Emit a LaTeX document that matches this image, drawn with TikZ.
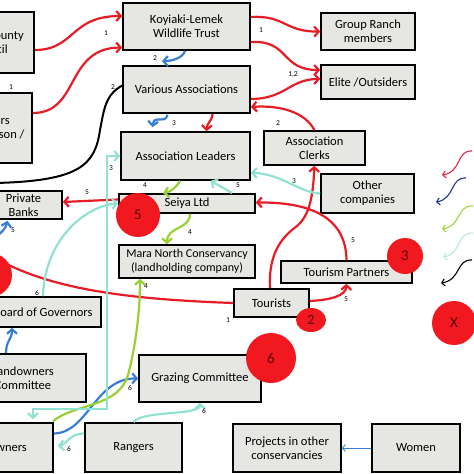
\documentclass[tikz,border=0pt]{standalone}
\usepackage{fontspec}
\setmainfont{Carlito}
\usetikzlibrary{arrows.meta,calc,shapes.geometric}
\definecolor{rl}{RGB}{232,28,38}
\definecolor{bl}{RGB}{58,125,214}
\definecolor{gr}{RGB}{154,208,52}
\definecolor{cy}{RGB}{145,226,210}
\definecolor{cr}{RGB}{242,24,32}
\definecolor{cdark}{RGB}{85,6,6}
\definecolor{boxgray}{RGB}{230,230,227}
\definecolor{lgred}{RGB}{226,40,70}
\definecolor{lgnavy}{RGB}{30,55,140}
\definecolor{lggreen}{RGB}{160,214,60}
\definecolor{lgcyan}{RGB}{185,232,224}
\begin{document}
\begin{tikzpicture}[x=1pt,y=-1pt,
  box/.style={draw=black,line width=1.6pt,fill=boxgray,align=center,inner sep=1pt,font=\fontsize{12.5}{14}\selectfont},
  circ/.style={circle,fill=cr,inner sep=0pt,font=\fontsize{15}{15}\selectfont,text=cdark},
  tip/.style={-{Straight Barb[length=4.5pt,width=10pt]}},
  redc/.style={draw=rl,line width=2.2pt,tip},
  bluec/.style={draw=bl,line width=2.2pt,tip},
  greenc/.style={draw=gr,line width=2.2pt,tip},
  cyanc/.style={draw=cy,line width=2.2pt,tip},
  blackc/.style={draw=black,line width=2pt},
  legc/.style={line width=1.1pt,-{Straight Barb[length=3pt,width=7pt]}},
  lbl/.style={font=\fontsize{7.5}{8}\selectfont,inner sep=0pt}]
\useasboundingbox (0,0) rectangle (474,474);
\fill[white] (0,0) rectangle (474,474);
\clip (0,0) rectangle (474,474);

% boxes
\node[box,minimum width=90pt,minimum height=61pt] (county) at (-11,42.5) {Narok County\\Council};
\node[box,minimum width=84pt,minimum height=70pt] (elders) at (-10,128) {Leaders\\Chairperson /};
\node[box,minimum width=127pt,minimum height=47pt] (koy) at (186.5,26.5) {Koyiaki-Lemek\\Wildlife Trust};
\node[box,minimum width=94pt,minimum height=37pt] (grm) at (368,31.5) {Group Ranch\\members};
\node[box,minimum width=94pt,minimum height=34pt] (elite) at (368,82) {Elite /Outsiders};
\node[box,minimum width=127pt,minimum height=47pt] (various) at (186.5,89.5) {Various Associations};
\node[box,minimum width=129pt,minimum height=48pt] (aleaders) at (185.5,156) {Association Leaders};
\node[box,minimum width=101pt,minimum height=34pt] (clerks) at (314.5,148) {Association\\Clerks};
\node[box,minimum width=93pt,minimum height=39pt] (other) at (367.5,193.5) {Other\\companies};
\node[box,minimum width=77pt,minimum height=28pt] (banks) at (23.5,205) {Private\\Banks};
\node[box,minimum width=136pt,minimum height=19pt] (seiya) at (187,203.5) {Seiya Ltd};
\node[box,minimum width=136pt,minimum height=33pt,font=\fontsize{12}{14}\selectfont] (mara) at (187,261.5) {Mara North Conservancy\\(landholding company)};
\node[box,minimum width=131pt,minimum height=22pt] (tpart) at (346.5,272) {Tourism Partners};
\node[box,minimum width=75pt,minimum height=28pt] (tourists) at (271.5,303) {Tourists};
\node[box,minimum width=116pt,minimum height=30pt] (bog) at (43,312) {Board of Governors};
\node[box,minimum width=126pt,minimum height=48pt] (lcomm) at (23,378) {Landowners\\Committee};
\node[box,minimum width=114pt,minimum height=49pt] (lowners) at (-4,447.5) {Landowners};
\node[box,minimum width=97pt,minimum height=49pt] (rangers) at (133.5,447.5) {Rangers};
\node[box,minimum width=122pt,minimum height=47pt] (grazing) at (200,378.5) {Grazing Committee};
\node[box,minimum width=108pt,minimum height=48pt] (projects) at (287,448) {Projects in other\\conservancies};
\node[box,minimum width=88pt,minimum height=48pt] (women) at (416,448) {Women};

% red connectors
\draw[redc] ($(county.east)+(0,7.5)$) .. controls (75,50) and (70,16) .. ($(koy.west)+(0,-10.5)$);
\draw[redc] ($(elders.east)+(0,-15)$) .. controls (80,113) and (65,48) .. ($(koy.west)+(0,21)$);
\draw[redc] ($(koy.east)+(0,-9.5)$) .. controls (285,15) and (285,32) .. (grm.west);
\draw[redc] ($(koy.east)+(0,15.5)$) .. controls (290,40) and (280,70) .. ($(elite.west)+(0,-12)$);
\draw[redc] ($(various.east)+(0,9.5)$) .. controls (285,99) and (290,79) .. ($(elite.west)+(0,-3)$);
\draw[redc] (clerks.north) .. controls (305,112) and (280,105) .. ($(various.east)+(0,17.5)$);
\draw[redc] ($(various.south)+(26,0)$) .. controls (212,122) and (207,122) .. ($(aleaders.north)+(21,0)$);
\draw[redc] ($(seiya.west)+(0,-4)$) -- ($(banks.east)+(0,-3)$);
\draw[redc] (tpart.north) .. controls (346,218) and (312,202) .. ($(seiya.east)+(0,-1)$);
\draw[redc] ($(tourists.north)+(-1.5,0)$) .. controls (268,250) and (285,235) .. (297,226) .. controls (310,215) and (313,195) .. (clerks.south);
\draw[redc] ($(tourists.east)+(0,-2)$) .. controls (330,300) and (346,296) .. (tpart.south);
\draw[draw=rl,line width=2.2pt] (tourists.west) .. controls (120,299) and (45,288) .. (-10,255);

% blue connectors
\draw[bluec] ($(koy.south)+(-1.5,0)$) .. controls (183,58) and (172,61) .. ($(various.north)+(-24.5,-4)$);
\draw[bluec] ($(various.south)+(-19,1)$) .. controls (165,125) and (154,114) .. ($(aleaders.north)+(-33,-4)$);
\draw[bluec] (-3,236) .. controls (2,232) and (6,228) .. ($(banks.south)+(-16,1)$);
\draw[bluec] ($(lcomm.north)+(-17,0)$) .. controls (6,340) and (12,340) .. ($(bog.south)+(-31,0)$);
\draw[bluec] ($(lowners.east)+(0,-14)$) .. controls (88,433) and (95,378) .. (grazing.west);
\draw[draw=bl,line width=0.9pt,-{Straight Barb[length=3pt,width=7pt]}] (women.west) -- (projects.east);

% green connectors
\draw[greenc] ($(aleaders.south)+(-5.5,0)$) .. controls (176,188) and (170,192) .. ($(seiya.north)+(-24,0)$);
\draw[greenc] ($(seiya.south)+(3,0)$) .. controls (190,230) and (167,226) .. ($(mara.north)+(-20,0)$);
\draw[greenc] ($(lowners.north)+(57,-1)$) .. controls (75,403) and (118,408) .. (128,375) .. controls (136,345) and (140,310) .. ($(mara.south)+(-47,0)$);

% cyan connectors
\coordinate (vc) at (107,409);
\draw[draw=cy,line width=2.2pt,{Straight Barb[length=4.5pt,width=10pt]}-{Straight Barb[length=4.5pt,width=10pt]}] ($(lowners.north)+(37,-3)$) |- (vc) |- (aleaders.west);
\draw[cyanc] (bog.north) .. controls (45,235) and (90,205) .. (seiya.west);
\draw[cyanc] (other.west) .. controls (300,193) and (280,173) .. ($(aleaders.east)+(0,17)$);
\draw[cyanc] ($(seiya.north)+(45,0)$) .. controls (224,188) and (216,184) .. ($(aleaders.south)+(25,0)$);
\draw[cyanc] (rangers.north) .. controls (142,410) and (200,416) .. (grazing.south);
\draw[cyanc] ($(rangers.west)+(0,-14)$) .. controls (70,433) and (66,445) .. ($(lowners.east)+(4,-1.5)$);

% black connector
\draw[blackc] ($(various.west)+(0,-4)$) .. controls (105,95) and (104,110) .. (100,130) .. controls (95,165) and (80,181) .. (-5,183);

% labels
\node[lbl] (l1) at (106,33) {1};
\node[lbl] (l2) at (11,87) {1};
\node[lbl] (l3) at (261,30) {1};
\node[lbl] (l4) at (293,75) {1,2};
\node[lbl] (l5) at (278,123) {2};
\node[lbl] (l6) at (155,58) {2};
\node[lbl] (l7) at (113,87) {2};
\node[lbl] (l8) at (174,123) {3};
\node[lbl] (l9) at (111,168) {3};
\node[lbl] (l10) at (145,185) {4};
\node[lbl] (l11) at (238,185) {5};
\node[lbl] (l12) at (294,181) {3};
\node[lbl] (l13) at (87,192) {5};
\node[lbl] (l14) at (13,230) {5};
\node[lbl] (l15) at (190,232) {4};
\node[lbl] (l16) at (353,240) {5};
\node[lbl] (l17) at (146,286) {4};
\node[lbl] (l18) at (37,293) {6};
\node[lbl] (l19) at (346,299) {5};
\node[lbl] (l20) at (228,320) {1};
\node[lbl] (l21) at (130,388) {6};
\node[lbl] (l22) at (204,411) {6};
\node[lbl] (l23) at (69,449) {6};

% legend arrows
\draw[legc,draw=lgred] (472,151) .. controls (456,150) and (462,172) .. (442,175);
\draw[legc,draw=lgnavy] (466,178) .. controls (450,177) and (455,199) .. (436,202);
\draw[legc,draw=lggreen] (473,206) .. controls (456,205) and (462,226) .. (442,229);
\draw[legc,draw=lgcyan] (473,233) .. controls (456,232) and (462,254) .. (443,257);
\draw[legc,draw=black] (472,260) .. controls (456,259) and (461,280) .. (441,283);

% red circles
\node[circ,minimum size=44pt] (c5) at (138,215) {5};
\node[circ,minimum size=44pt] (cl) at (-10,275) {};
\node[circ,minimum size=36pt] (c3) at (405,256) {3};
\node[ellipse,fill=cr,inner sep=0pt,minimum width=30pt,minimum height=24pt,font=\fontsize{14}{14}\selectfont,text=cdark] (c2) at (311,320) {2};
\node[circ,minimum size=50pt] (c6) at (271,358) {6};
\node[circ,minimum size=44pt] (cx) at (454,323) {X};
\end{tikzpicture}
\end{document}
